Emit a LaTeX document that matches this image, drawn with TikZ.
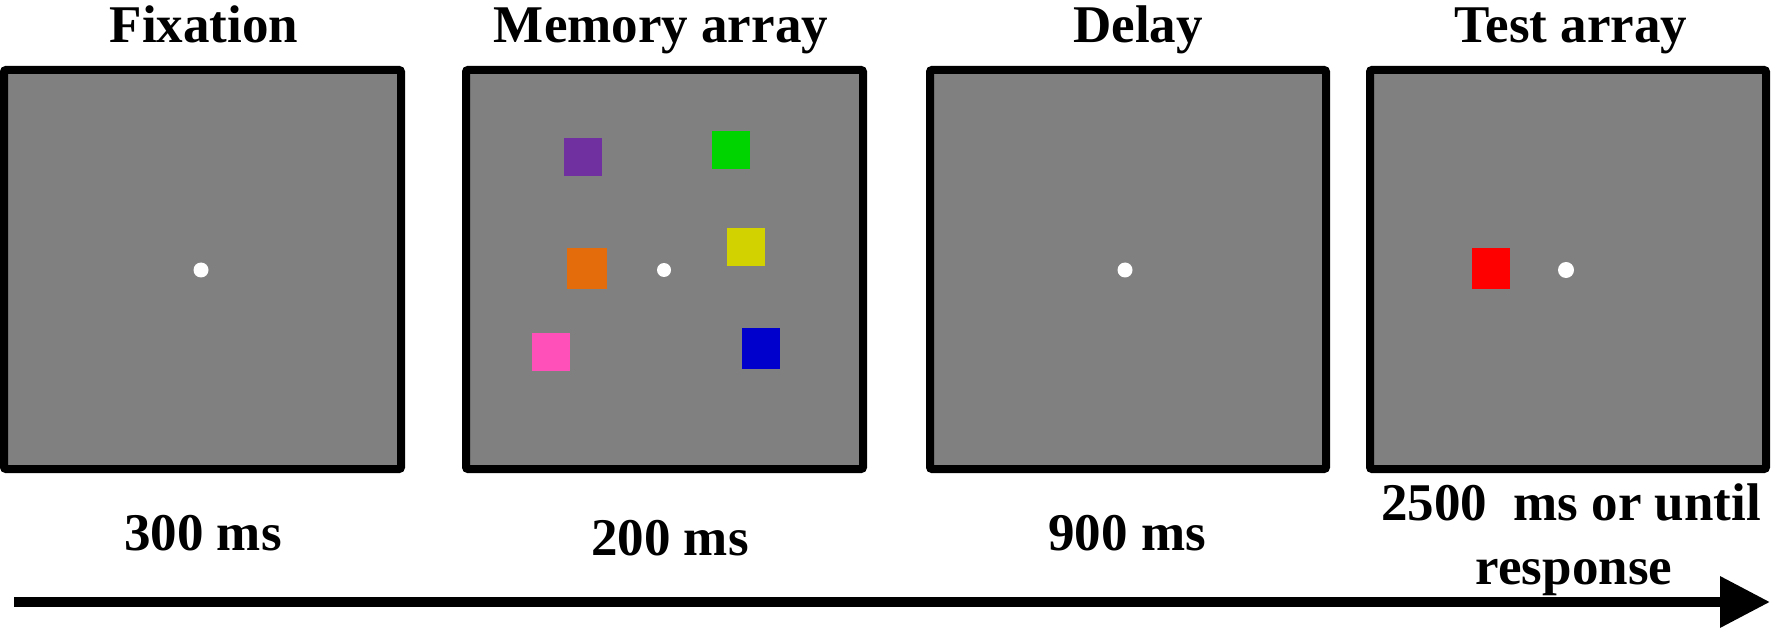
\documentclass[tikz,border=0pt]{standalone}
\usepackage{fontspec}
\setmainfont{Liberation Serif}
\usetikzlibrary{arrows.meta}
\definecolor{scr}{HTML}{808080}
\definecolor{cpurple}{HTML}{7030A0}
\definecolor{cgreen}{HTML}{00D400}
\definecolor{cyellow}{HTML}{D2D200}
\definecolor{corange}{HTML}{E46C0A}
\definecolor{cpink}{HTML}{FF4FB8}
\definecolor{cblue}{HTML}{0000CC}
\definecolor{cred}{HTML}{FF0000}
\tikzset{
  panel/.style={draw=black, fill=scr, line width=8pt, rounded corners=2pt},
  fixdot/.style={fill=white, draw=none},
  title/.style={anchor=base, inner sep=0pt, font=\fontsize{53}{63}\selectfont\bfseries},
  dur/.style={anchor=base, inner sep=0pt, align=center, font=\fontsize{53}{63}\selectfont\bfseries},
  stim/.style={draw=none}
}
\begin{document}
\begin{tikzpicture}[x=1pt,y=-1pt]
\useasboundingbox (0,0) rectangle (1777,628);
% panels
\draw[panel] (4,70) rectangle (401,469);
\draw[panel] (466,70) rectangle (863,469);
\draw[panel] (930,70) rectangle (1326,469);
\draw[panel] (1370,70) rectangle (1766,469);
% fixation dots
\fill[fixdot] (201,270) circle (7.5);
\fill[fixdot] (664,270) circle (7);
\fill[fixdot] (1125,270) circle (7.5);
\fill[fixdot] (1566,270) circle (8);
% memory array
\fill[cpurple] (564,138) rectangle (602,176);
\fill[cgreen]  (712,131) rectangle (750,169);
\fill[cyellow] (727,228) rectangle (765,266);
\fill[corange] (567,248) rectangle (607,289);
\fill[cpink]   (532,333) rectangle (570,371);
\fill[cblue]   (742,328) rectangle (780,369);
% test array
\fill[cred] (1472,248) rectangle (1510,289);
% titles
\node[title] (t1) at (204,43) {Fixation};
\node[title] (t2) at (661,43) {Memory array};
\node[title] (t3) at (1138,43) {Delay};
\node[title] (t4) at (1571,43) {Test array};
% durations
\node[dur] (d1) at (203,550) {300 ms};
\node[dur] (d2) at (670,555) {200 ms};
\node[dur] (d3) at (1127,550) {900 ms};
\node[dur] (d4) at (1571,520) {2500\ \ ms or until};
\node[dur] (d5) at (1574,584) {response};
% time arrow
\coordinate (a0) at (14,602);
\coordinate (a1) at (1770,602);
\draw[line width=10pt, -{Triangle[length=50pt,width=49pt]}] (a0) -- (a1);
\end{tikzpicture}
\end{document}
